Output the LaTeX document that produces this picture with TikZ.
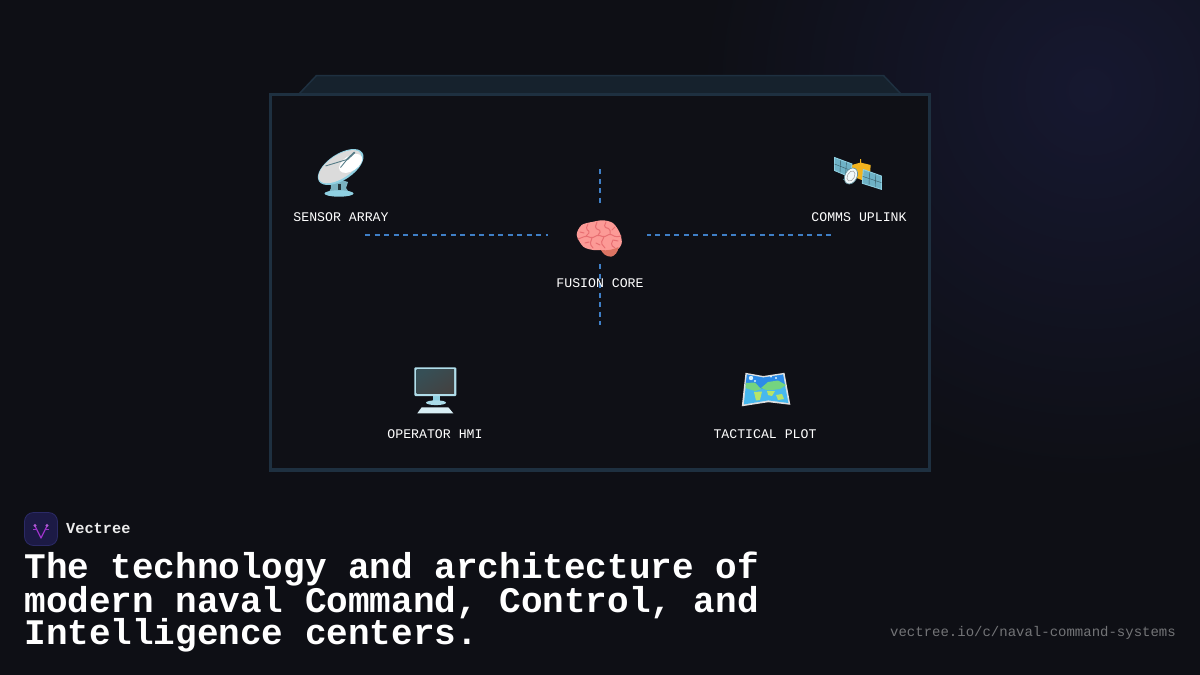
\documentclass[tikz,border=0pt]{standalone}
\usepackage{fontspec}
\setmonofont{Liberation Mono}
\usepackage{tikz}
\definecolor{bgdark}{HTML}{0E0F15}
\definecolor{bgnavy}{HTML}{161830}
\definecolor{panelfill}{HTML}{0F1016}
\definecolor{panelline}{HTML}{1E3040}
\definecolor{tabfill}{HTML}{16222D}
\definecolor{linkblue}{HTML}{3F7FC6}
\definecolor{brainpink}{HTML}{FC9A96}
\definecolor{braindark}{HTML}{E86F72}
\definecolor{skyblue}{HTML}{8FD0E2}
\definecolor{panelblue}{HTML}{6EB2C6}
\definecolor{goldbody}{HTML}{F2B31E}
\definecolor{mapblue}{HTML}{2C8BE8}
\definecolor{mapcyan}{HTML}{47B8EE}
\definecolor{mapgreen}{HTML}{74D480}
\definecolor{mapland}{HTML}{B7E46A}
\definecolor{logofill}{HTML}{1C1A45}
\definecolor{logoline}{HTML}{2B2A66}
\definecolor{logopurple}{HTML}{9A32C8}

\begin{document}
\begin{tikzpicture}[x=1pt, y=-1pt, every node/.style={font=\ttfamily},
    tag/.style={text=white, inner sep=0pt, font=\ttfamily\fontsize{13.2}{13.2}\selectfont},
    link/.style={linkblue, line width=2pt, dash pattern=on 5pt off 4.5pt}]
  \useasboundingbox (0,0) rectangle (1200,675);
  \fill[bgdark] (0,0) rectangle (1200,675);
  \begin{scope}
    \clip (0,0) rectangle (1200,675);
    \shade[inner color=bgnavy, outer color=bgdark] (1090,90) circle (390);
  \end{scope}

  % Panel
  \draw[panelline, fill=tabfill, line width=1.5pt] (299,94) -- (316.5,75.5) -- (883.5,75.5) -- (901,94);
  \draw[panelline, fill=panelfill, line width=3.5pt] (270.6,94.5) rectangle (929.4,470.2);

  % Links
  \node[minimum width=99pt, minimum height=61pt, inner sep=0pt] (core) at (597.5,233.5) {};
  \coordinate (linkW) at (365,235.1);
  \coordinate (linkE) at (831,235.1);
  \coordinate (linkN) at (600,169);
  \coordinate (linkS) at (600,325);
  \draw[link] (linkW) -- (core.west |- linkW);
  \draw[link] (linkE) -- (core.east |- linkE);
  \draw[link] (linkN) -- (core.north -| linkN);
  \draw[link] (core.south -| linkS) -- (linkS);

  % Dish
  \fill[skyblue!85!black] (330,176) -- (348,182) -- (346,188) -- (350,194) -- (328,194) -- (331,188) -- cycle;
  \fill[black!75!skyblue] (337.5,184) rectangle (341,189.5);
  \fill[skyblue] (339,193.5) ellipse (14.5 and 3.2);
  \fill[skyblue, rotate around={33.5:(340.7,167)}] (340.7,167) ellipse (26 and 13);
  \fill[black!14, rotate around={33.5:(340.7,167)}] (340.2,166.3) ellipse (24.5 and 11.5);
  \fill[white, rotate around={33.5:(340.7,167)}] (351,169.5) ellipse (13 and 7.5);
  \draw[skyblue!60!black, line width=0.9pt] (325.5,166) -- (347,159.5);
  \draw[skyblue!60!black, line width=0.9pt] (340.5,167.5) -- (347,159.5);
  \draw[skyblue!60!black, line width=1.8pt, line cap=round] (347,159.5) -- (354.5,152.5);
  \node[tag] (sensor) at (341,217) {SENSOR ARRAY};

  % Satellite
  \fill[goldbody] (851.7,165) -- (860,162.7) -- (860,159) -- (861.2,159) -- (861.2,162.7) -- (870.7,165) -- (870,174) -- (861.7,180) -- (851.7,176) -- cycle;
  \draw[skyblue, fill=panelblue, line width=0.9pt] (834.5,157.5) -- (852,164) -- (850,177) -- (834.5,170.5) -- cycle;
  \draw[skyblue, fill=panelblue, line width=0.9pt] (863.3,169.5) -- (881.3,176) -- (881.3,189.3) -- (862.3,183.3) -- cycle;
  \draw[panelblue!50!black, line width=0.4pt] (840.5,160) -- (840,172.7) (846.5,162) -- (845.5,175) (834.5,164) -- (851,170.5) (869.5,172) -- (869,185.3) (875.5,174) -- (875.2,187.4) (862.8,176.4) -- (881.3,182.6);
  \draw[panelblue!60!black, line width=1pt] (843,179.5) -- (850,178);
  \fill[white!88!skyblue, draw=skyblue!70!black, line width=0.7pt, rotate around={-28:(851,176)}] (851,176) ellipse (6 and 8.5);
  \draw[gray!80, line width=0.5pt, rotate around={-28:(851,176)}] (851,176) ellipse (3.5 and 5.5);
  \node[tag] (comms) at (859,217) {COMMS UPLINK};

  % Brain
  \fill[brainpink] plot[smooth cycle] coordinates {(576.7,235) (581.7,225) (593.3,221.7) (603.3,220.3) (613.3,223.3) (620,233.3) (621.7,243.3) (616.7,250) (606,251) (601.7,250) (593.3,250) (583.3,246.7)};
  \fill[braindark!70!brown] (601,250) .. controls (607,251) and (614,249.5) .. (618.5,247) .. controls (618,252) and (615,256) .. (611,256.7) .. controls (606,256.5) and (603,254) .. (601,250) -- cycle;
  \draw[braindark, line width=1pt, line cap=round, rounded corners=1.5pt] (578,239) -- (586,236) -- (592,238) -- (598,235) -- (604,237) -- (610,234) -- (616,237) -- (621,236) (588,224) -- (586,229) -- (590,232) -- (586,236) (597,222) -- (595,228) -- (601,231) -- (598,235) (606,222) -- (604,227) -- (610,229) -- (610,234) (615,227) -- (612,230) (592,238) -- (590,244) -- (593,248) (604,237) -- (601,243) -- (605,248) (613,240) -- (611,245) -- (615,248) (580,232) -- (584,233) (585,243) -- (589,242) (618,241) -- (613,240) (596,243) -- (600,245);
  \node[tag] (fusion) at (600,283) {FUSION CORE};

  % Monitor
  \fill[skyblue] (433,395) rectangle (440,403);
  \fill[skyblue!75!white] (436,402.7) ellipse (10 and 2.4);
  \fill[skyblue!70!white, rounded corners=1pt] (414.3,367.3) rectangle (456.3,396);
  \shade[left color=black!62!skyblue, right color=black!74, shading angle=35] (416.5,369.5) rectangle (454,393.5);
  \fill[skyblue!35!white] (421.7,407.3) -- (448.3,407.3) -- (453.3,413.3) -- (417.3,413.3) -- cycle;
  \node[tag] (operator) at (435,434) {OPERATOR HMI};

  % Map
  \fill[white!75!gray] (745.5,372.8) -- (763.3,376) -- (784.5,372.8) -- (790.3,404.8) -- (768.3,402.2) -- (741.8,406.3) -- cycle;
  \fill[mapcyan] (747,374.6) -- (763.3,377.6) -- (783,374.6) -- (788.4,403) -- (768.3,400.4) -- (743.8,404.4) -- cycle;
  \fill[mapblue] (747,374.6) -- (763.3,377.6) -- (783,374.6) -- (785,386) -- (764,389) -- (745.5,385) -- cycle;
  \fill[mapgreen] (746,383) -- (755,382.5) -- (761,389) -- (755,391) -- (745.5,388) -- cycle;
  \fill[mapgreen] (761,388) -- (768,382) -- (778,380.5) -- (786,385) -- (780,389) -- (768,390.5) -- cycle;
  \fill[mapland] (754,392) -- (762,391.5) -- (760,400) -- (756,400.5) -- cycle;
  \fill[mapland] (767,391) -- (775,391) -- (772,396) -- (768,395) -- cycle;
  \fill[mapland] (776,395) -- (782,394) -- (784,399) -- (778,400) -- cycle;
  \fill[white!85!cyan] (751,378) circle (2.2) (755,381) circle (1.2) (771,376.5) circle (1.2) (776,378) circle (1.2);
  \node[tag] (tactical) at (765,434) {TACTICAL PLOT};

  % Brand
  \draw[logoline, fill=logofill, line width=0.8pt, rounded corners=9pt] (24.5,512.5) rectangle (57.5,545.5);
  \draw[logopurple, line width=1.3pt, line join=round] (35,526) -- (41,538) -- (47,526);
  \draw[logopurple, line width=0.8pt] (33,529) -- (36.5,529) (49,529) -- (45.5,529);
  \fill[logopurple!80!white] (35,525.5) circle (1.7) (47,525.5) circle (1.7);
  \node[anchor=west, inner sep=0pt, text=white!92!black, font=\ttfamily\bfseries\fontsize{15.3}{15.3}\selectfont] (brand) at (66,528.5) {Vectree};

  % Title
  \node[anchor=north west, inner sep=0pt, align=left, text=white, font=\ttfamily\bfseries\fontsize{36}{32.4}\selectfont] (title) at (24.2,551.6) {\lineskiplimit=-20pt The technology and architecture of\\[-1.1pt]modern naval Command, Control, and\\[-1.1pt]Intelligence centers.};
  \node[anchor=east, inner sep=0pt, text=white!42!bgdark, font=\ttfamily\fontsize{14}{14}\selectfont] (source) at (1176,633) {vectree.io/c/naval-command-systems};
\end{tikzpicture}
\end{document}
